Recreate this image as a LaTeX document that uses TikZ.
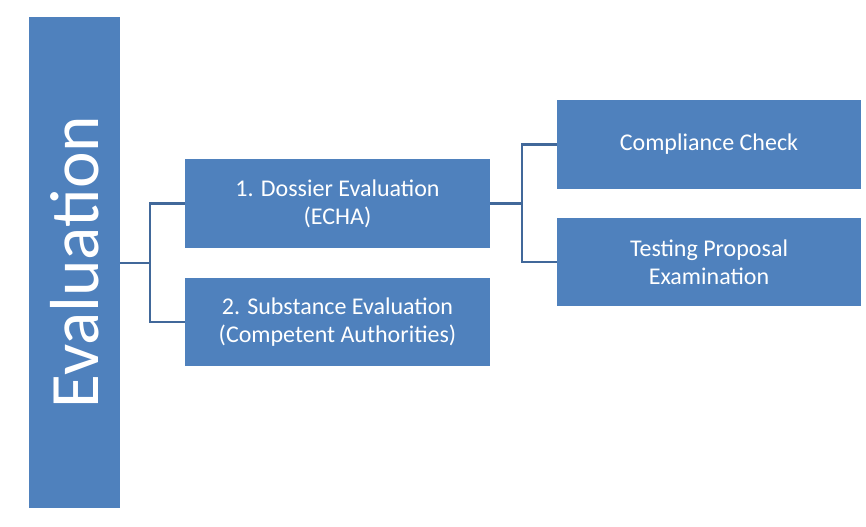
\documentclass[tikz,border=0pt]{standalone}
\usepackage{fontspec}
\setmainfont{Carlito}
\definecolor{boxc}{HTML}{4F81BD}
\definecolor{linec}{HTML}{41689A}
\begin{document}
\begin{tikzpicture}[x=0.75pt,y=-0.75pt,
  box/.style={fill=boxc,draw=none,text=white,align=center,font=\fontsize{18}{21}\selectfont,inner sep=0pt},
  conn/.style={draw=linec,line width=2.2pt}]
\useasboundingbox (0,0) rectangle (866,527);
\fill[boxc] (29,17) rectangle (120,508);
\node[text=white,rotate=90,font=\fontsize{52}{60}\selectfont] (ev) at (74.5,262) {Evaluation};
\coordinate (evr) at (120,263);
\node[box,minimum width=228.75pt,minimum height=66.75pt] (b1) at (337.5,203.5) {1. Dossier Evaluation\\(ECHA)};
\node[box,minimum width=228.75pt,minimum height=66pt] (b2) at (337.5,322) {2. Substance Evaluation\\(Competent Authorities)};
\node[box,minimum width=228pt,minimum height=66.75pt] (b3) at (709,144.5) {Compliance Check};
\node[box,minimum width=228pt,minimum height=66pt] (b4) at (709,262) {Testing Proposal\\Examination};
\draw[conn] (evr) -- (150,263);
\draw[conn] (b1.west) -| (150,263) |- (b2.west);
\draw[conn] (b1.east) -- (522,203.5);
\draw[conn] (b3.west) -| (522,203.5) |- (b4.west);
\end{tikzpicture}
\end{document}
